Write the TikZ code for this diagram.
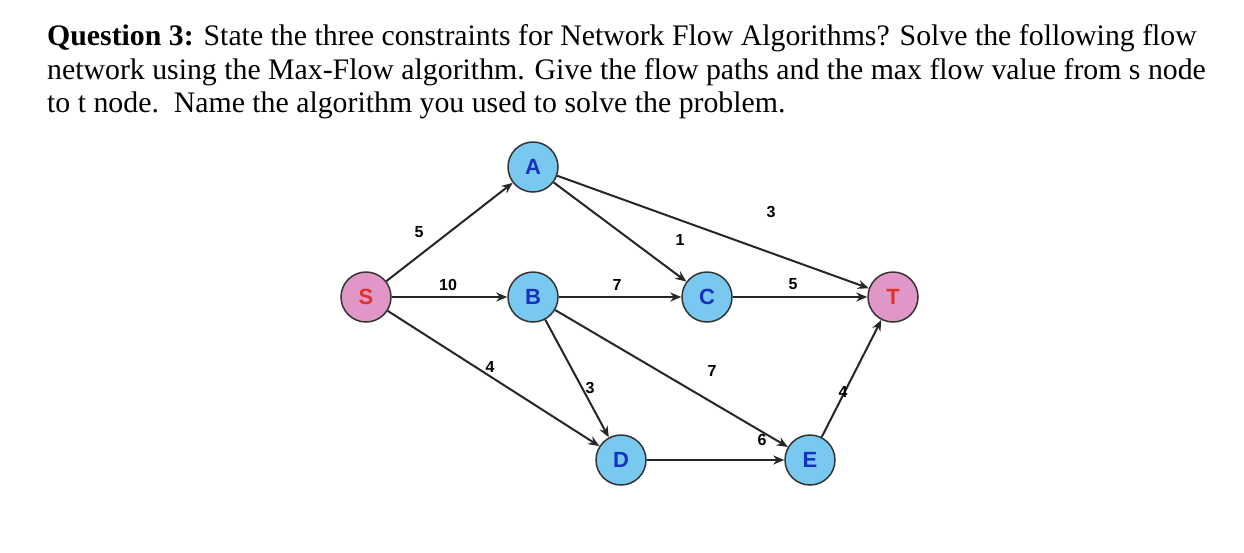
\documentclass[tikz,border=0pt]{standalone}
\usepackage{fontspec}
\setmainfont{Liberation Serif}
\newfontfamily\lab{Liberation Sans}
\usetikzlibrary{arrows.meta}
\definecolor{nblue}{RGB}{120,200,240}
\definecolor{npink}{RGB}{225,150,200}
\definecolor{tblue}{RGB}{20,50,190}
\definecolor{tred}{RGB}{220,50,40}
\begin{document}
\begin{tikzpicture}[x=1pt,y=-1pt,
  q/.style={anchor=west,font=\fontsize{29.8}{34}\selectfont,inner sep=0pt},
  nd/.style={circle,draw=black!80,line width=1.5pt,minimum size=50pt,inner sep=0pt,fill=nblue,text=tblue,font=\lab\bfseries\fontsize{22}{24}\selectfont},
  st/.style={nd,fill=npink,text=tred},
  e/.style={-{Stealth[length=11pt,width=9pt]},line width=2pt,black!85},
  w/.style={font=\lab\bfseries\fontsize{16}{17}\selectfont,inner sep=1pt}]
\useasboundingbox (0,0) rectangle (1244,552);
\fill[white] (0,0) rectangle (1244,552);
\node[q] (l1) at (47,38) {\textbf{Question 3:} State the three constraints for Network Flow Algorithms? Solve the following flow};
\node[q] (l2) at (47,72) {network using the Max-Flow algorithm. Give the flow paths and the max flow value from s node};
\node[q] (l3) at (47,105) {to t node.\ \ Name the algorithm you used to solve the problem.};
\node[st] (S) at (366,297) {S};
\node[nd] (A) at (533,167) {A};
\node[nd] (B) at (533,297) {B};
\node[nd] (C) at (707,297) {C};
\node[st] (T) at (893,297) {T};
\node[nd] (D) at (621,460) {D};
\node[nd] (E) at (810,460) {E};
\draw[e] (S) -- (A);
\draw[e] (S) -- (B);
\draw[e] (S) -- (D);
\draw[e] (A) -- (C);
\draw[e] (A) -- (T);
\draw[e] (B) -- (C);
\draw[e] (B) -- (D);
\draw[e] (B) -- (E);
\draw[e] (C) -- (T);
\draw[e] (D) -- (E);
\draw[e] (E) -- (T);
\node[w] (w1) at (419,232) {5};
\node[w] (w2) at (448,285) {10};
\node[w] (w3) at (617,285) {7};
\node[w] (w4) at (793,284) {5};
\node[w] (w5) at (680,240) {1};
\node[w] (w6) at (771,212) {3};
\node[w] (w7) at (490,367) {4};
\node[w] (w8) at (590,388) {3};
\node[w] (w9) at (712,371) {7};
\node[w] (w10) at (762,440) {6};
\node[w] (w11) at (843,392) {4};
\end{tikzpicture}
\end{document}
